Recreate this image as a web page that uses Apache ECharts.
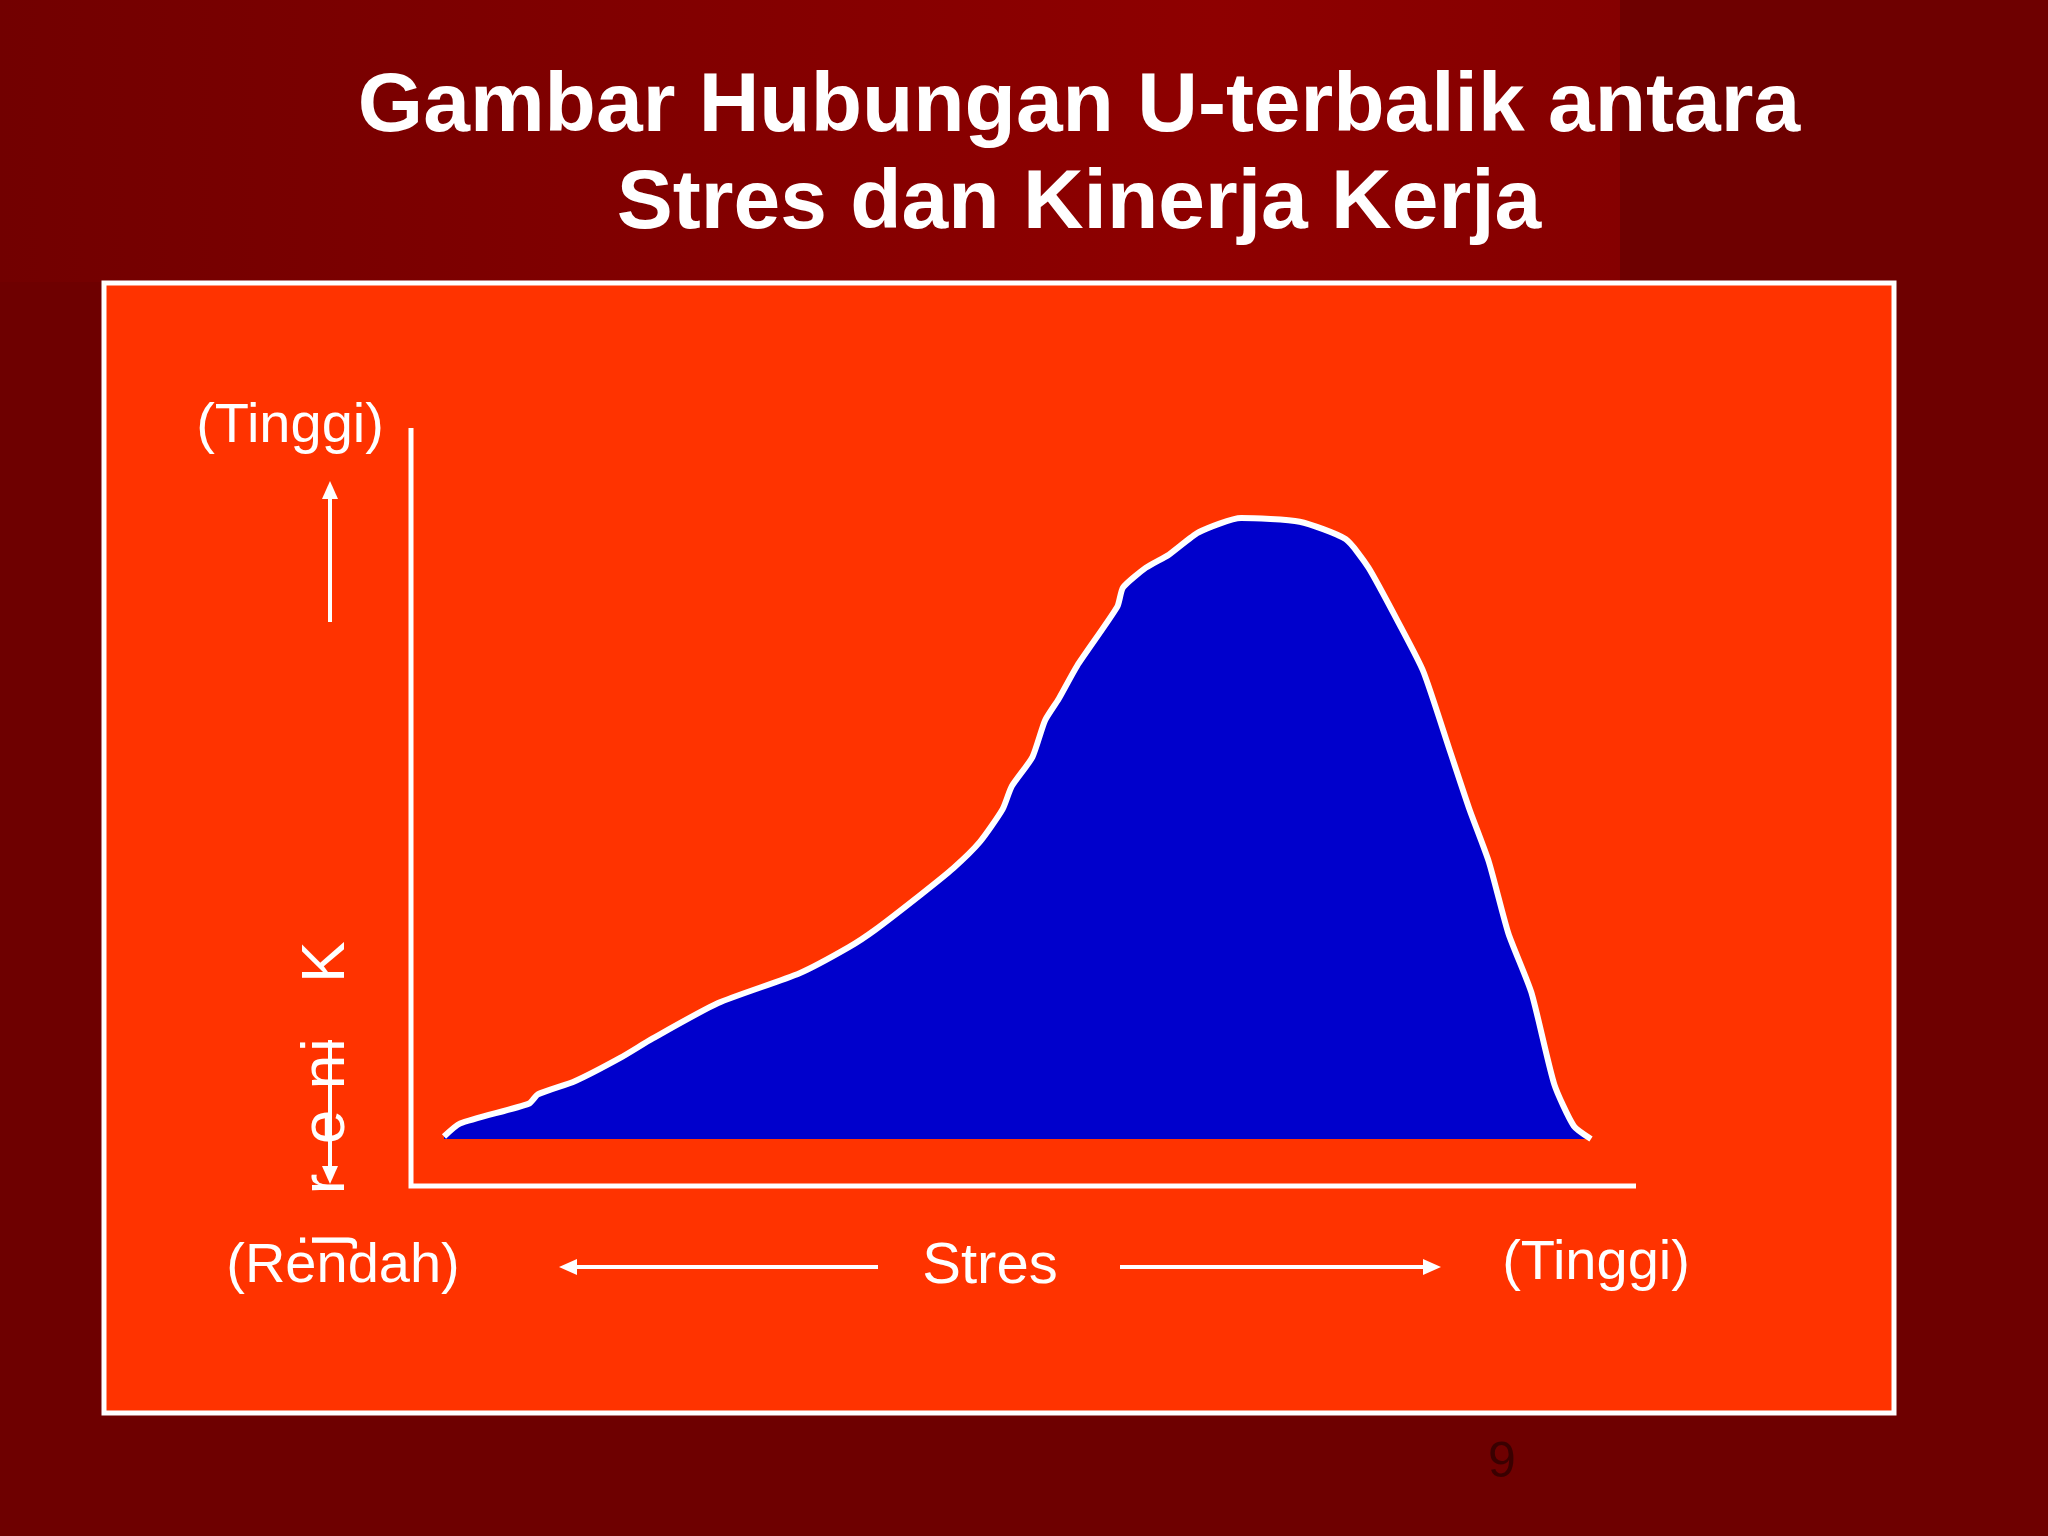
<!DOCTYPE html>
<html><head><meta charset="utf-8">
<script src="https://cdn.jsdelivr.net/npm/echarts@6/dist/echarts.min.js"></script>
<style>html,body{margin:0;padding:0;background:#6e0000}#c{width:2048px;height:1536px}</style>
</head><body><div id="c"></div>
<script>
const titleLines = ['Gambar Hubungan U-terbalik antara', 'Stres dan Kinerja Kerja'];
const stressX = [0,1.4,7.4,8.2,11.4,15.4,18.2,23.9,31.0,35.3,37.6,41.6,44.4,46.7,48.7,49.5,51.3,52.4,53.6,55.2,58.7,59.2,61.2,63.2,65.8,69.5,74.6,78.6,80.6,83.4,85.4,87.7,89.4,91.1,92.8,94.8,96.8,98.5,100];
const performance = [0.4,2.5,5.7,7.2,9.3,13.1,16.2,21.9,26.7,30.9,33.7,39.4,43.6,47.8,53.1,56.8,61.5,67.4,70.9,76.2,85.7,88.8,92.0,94.1,97.7,100,99.4,96.6,92.0,82.5,75.2,62.5,53.1,44.6,33.1,23.6,8.8,2.1,0];
const yLetters = ['K','i','n','e','r','j'];
const yLetterPos = [962,1045,1072,1127,1184,1240];

const chart = echarts.init(document.getElementById('c'));
const W = '#ffffff';
const FF = '"Liberation Sans", Arial, sans-serif';
const txt = (x,y,t,size,extra) => ({type:'text',x:x,y:y,z:20,style:Object.assign({text:t,fill:W,font:size+'px '+FF,align:'center',verticalAlign:'middle'},extra||{})});
const arrow = (x1,y1,x2,y2) => {
  const ang = Math.atan2(y2-y1,x2-x1), L=18, Wd=8;
  const bx = x2 - L*Math.cos(ang), by = y2 - L*Math.sin(ang);
  const px = -Math.sin(ang)*Wd, py = Math.cos(ang)*Wd;
  return [
    {type:'line',z:20,shape:{x1,y1,x2:bx,y2:by},style:{stroke:W,lineWidth:4}},
    {type:'polygon',z:20,shape:{points:[[x2,y2],[bx+px,by+py],[bx-px,by-py]]},style:{fill:W}}
  ];
};
const titleStyle = {font:'bold 84px '+FF,shadowColor:'#000',shadowOffsetX:4,shadowOffsetY:4,shadowBlur:1};
const graphics = [
  {type:'rect',z:0,shape:{x:0,y:0,width:1620,height:282},style:{fill:new echarts.graphic.LinearGradient(0,0,1,0,[{offset:0,color:'#720000'},{offset:0.75,color:'#8e0000'},{offset:1,color:'#850000'}])}},
  {type:'rect',z:1,shape:{x:104,y:283,width:1790,height:1130},style:{fill:'#ff3300',stroke:W,lineWidth:5}},
  txt(1079,108,titleLines[0],84,titleStyle),
  txt(1079,205,titleLines[1],84,titleStyle),
  {type:'polyline',z:15,shape:{points:[[411,428],[411,1186],[1636,1186]]},style:{stroke:W,lineWidth:5,fill:null}},
  txt(290,427,'(Tinggi)',56),
  txt(343,1267,'(Rendah)',56),
  txt(990,1267,'Stres',58),
  txt(1596,1264,'(Tinggi)',56),
  txt(1502,1463,'9',50,{fill:'#3a0000'}),
  ...arrow(330,622,330,481),
  ...arrow(330,1040,330,1184),
  ...arrow(878,1267,559,1267),
  ...arrow(1120,1267,1441,1267)
];
yLetters.forEach((l,i)=>graphics.push({type:'text',x:327,y:yLetterPos[i],rotation:Math.PI/2,z:20,style:{text:l,fill:W,font:'62px '+FF,align:'center',verticalAlign:'middle'}}));

chart.setOption({
  backgroundColor:'#6e0000',
  animation:false,
  grid:{left:444,right:457,top:518,bottom:397,containLabel:false},
  xAxis:{type:'value',min:0,max:100,show:false},
  yAxis:{type:'value',min:0,max:100,show:false},
  graphic:graphics,
  series:[{type:'line',z:10,data:stressX.map((x,i)=>[x,performance[i]]),smooth:0.2,symbol:'none',
    lineStyle:{color:W,width:6},areaStyle:{color:'#0000cc',opacity:1}}]
});
</script></body></html>
